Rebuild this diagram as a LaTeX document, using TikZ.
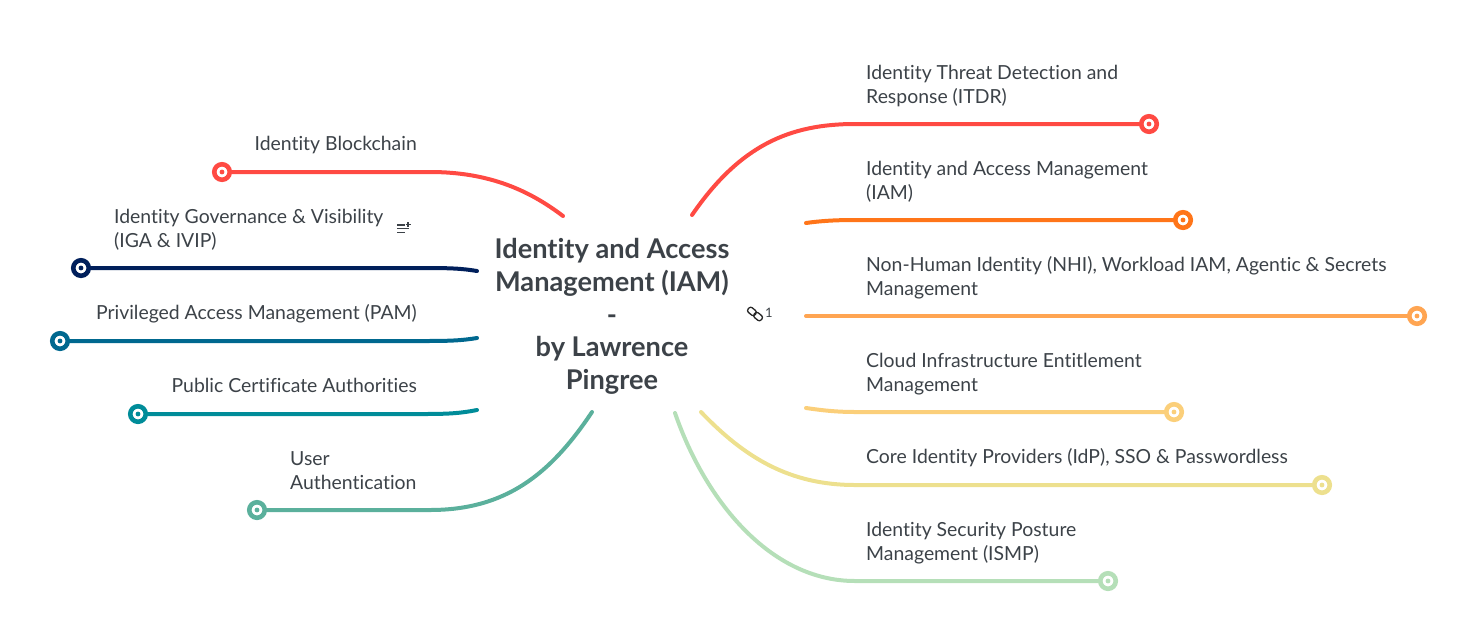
\documentclass[tikz,border=0pt]{standalone}
\usepackage{fontspec}
\setmainfont[Ligatures=NoCommon]{Lato}
\definecolor{cA}{HTML}{FF4A43}
\definecolor{cB}{HTML}{FF7519}
\definecolor{cC}{HTML}{FFA552}
\definecolor{cD}{HTML}{FBCF7A}
\definecolor{cE}{HTML}{EDE08E}
\definecolor{cF}{HTML}{B5DFB8}
\definecolor{cG}{HTML}{5BB09C}
\definecolor{cH}{HTML}{008C99}
\definecolor{cI}{HTML}{00688F}
\definecolor{cJ}{HTML}{001F5B}
\definecolor{ink}{HTML}{3C4248}
\tikzset{
  x=1pt,y=-1pt,
  conn/.style={line width=4pt,line cap=round},
  endpt/.style={circle,draw=#1,line width=4.6pt,fill=white,minimum size=15.5pt,inner sep=0pt,path picture={\fill[#1] (path picture bounding box.center) circle (2.4pt);}},
  lab/.style={font=\fontsize{19.4pt}{24pt}\selectfont,text=ink,inner sep=0pt,align=left},
  root/.style={font=\fontsize{27.2pt}{32.7pt}\selectfont\bfseries,text=ink,inner sep=0pt,align=center},
  iconline/.style={draw=ink,line width=1.2pt},
  chain/.style={draw=black!85,line width=1.3pt,rounded corners=2.4pt}
}
\begin{document}
\begin{tikzpicture}
\useasboundingbox (0,0) rectangle (1477,627);
\node[root] (rootn) at (612,316.5) {Identity and Access\\Management (IAM)\\-\\by Lawrence\\Pingree};

% start points on the central topic
\coordinate (sA) at (692,215);
\coordinate (sB) at (806,223);
\coordinate (sC) at (806,316);
\coordinate (sD) at (806,408);
\coordinate (sE) at (701,412);
\coordinate (sF) at (675,413);
\coordinate (sG) at (563,216);
\coordinate (sH) at (477,271);
\coordinate (sI) at (477,338);
\coordinate (sJ) at (477,410);
\coordinate (sK) at (592,412);

% end markers
\node[endpt=cA] (eA) at (1149,124) {};
\node[endpt=cB] (eB) at (1183,220) {};
\node[endpt=cC] (eC) at (1417,316) {};
\node[endpt=cD] (eD) at (1174,412) {};
\node[endpt=cE] (eE) at (1322,485) {};
\node[endpt=cF] (eF) at (1108,581) {};
\node[endpt=cA] (eG) at (222,172) {};
\node[endpt=cJ] (eH) at (81,268) {};
\node[endpt=cI] (eI) at (60,341) {};
\node[endpt=cH] (eJ) at (138,414) {};
\node[endpt=cG] (eK) at (257,510) {};

% connectors
\draw[conn,cA] (sA) .. controls (740,145) and (790,124) .. (855,124) -- (eA);
\draw[conn,cB] (sB) .. controls (820,221) and (835,220) .. (855,220) -- (eB);
\draw[conn,cC] (sC) -- (eC);
\draw[conn,cD] (sD) .. controls (820,410) and (835,412) .. (855,412) -- (eD);
\draw[conn,cE] (sE) .. controls (745,458) and (790,485) .. (855,485) -- (eE);
\draw[conn,cF] (sF) .. controls (705,500) and (770,581) .. (855,581) -- (eF);
\draw[conn,cA] (sG) .. controls (530,191) and (490,172) .. (430,172) -- (eG);
\draw[conn,cJ] (sH) .. controls (462,268.5) and (450,268) .. (425,268) -- (eH);
\draw[conn,cI] (sI) .. controls (462,340.5) and (450,341) .. (425,341) -- (eI);
\draw[conn,cH] (sJ) .. controls (462,413) and (450,414) .. (425,414) -- (eJ);
\draw[conn,cG] (sK) .. controls (550,475) and (505,510) .. (430,510) -- (eK);

% labels
\node[lab,anchor=west] (t1) at (866,86) {Identity Threat Detection and\\Response (ITDR)};
\node[lab,anchor=west] (t2) at (866,182) {Identity and Access Management\\(IAM)};
\node[lab,anchor=west] (t3) at (866,278) {Non-Human Identity (NHI), Workload IAM, Agentic \& Secrets\\Management};
\node[lab,anchor=west] (t4) at (866,374) {Cloud Infrastructure Entitlement\\Management};
\node[lab,anchor=west] (t5) at (866,458) {Core Identity Providers (IdP), SSO \& Passwordless};
\node[lab,anchor=west] (t6) at (866,543) {Identity Security Posture\\Management (ISMP)};
\node[lab,anchor=east] (t7) at (417,145) {Identity Blockchain};
\node[lab,anchor=west] (t8) at (114,230) {Identity Governance \& Visibility\\(IGA \& IVIP)};
\node[lab,anchor=east] (t9) at (417,314) {Privileged Access Management (PAM)};
\node[lab,anchor=east] (t10) at (417,385.5) {Public Certificate Authorities};
\node[lab,anchor=west] (t11) at (290,471) {User\\Authentication};

% note icon
\draw[iconline] (397,225) -- (405,225);
\draw[iconline] (397,228.5) -- (409,228.5);
\draw[iconline] (397,232.5) -- (405,232.5);
\draw[iconline] (405.5,224.5) -- (410.5,224.5) (408,222) -- (408,227);

% link badge
\draw[chain,rotate around={-40:(755,314)}] (746.5,311) rectangle (755.5,317);
\draw[chain,rotate around={-40:(755,314)}] (754.5,311) rectangle (763.5,317);
\node[inner sep=0pt,text=ink,font=\fontsize{13pt}{13pt}\selectfont] (lkn) at (769,313) {1};
\end{tikzpicture}
\end{document}
